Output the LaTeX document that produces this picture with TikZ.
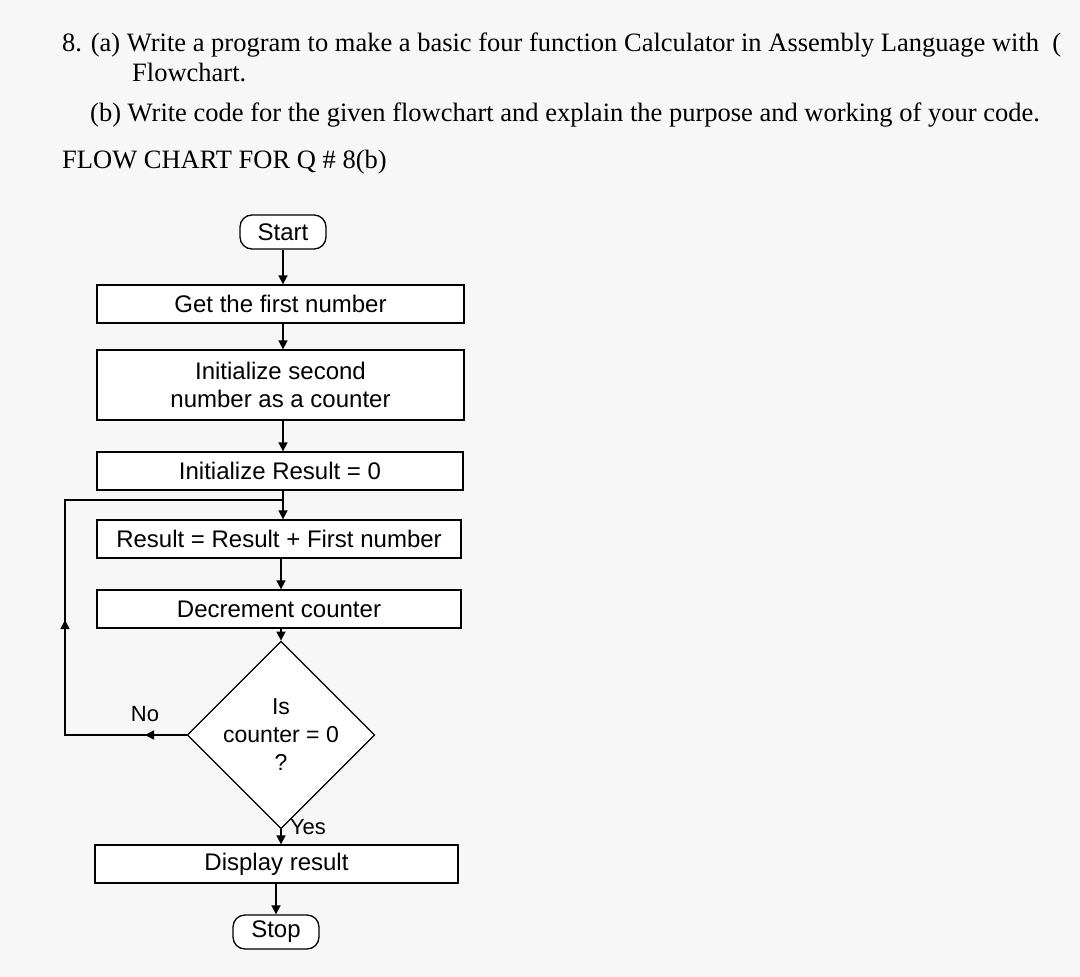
\documentclass[tikz,border=0pt]{standalone}
\usepackage{fontspec}
\setmainfont{Liberation Serif}
\newfontfamily\chartfont{Liberation Sans}
\usetikzlibrary{shapes.geometric,arrows.meta}
\begin{document}
\begin{tikzpicture}[x=1pt,y=-1pt,
  box/.style={draw,line width=1.3pt,fill=white,font=\chartfont\fontsize{24}{28}\selectfont,align=center,inner sep=0},
  term/.style={draw,line width=1.3pt,rounded corners=12pt,fill=white,font=\chartfont\fontsize{24}{28}\selectfont,minimum width=86pt,minimum height=34pt},
  arr/.style={line width=1.6pt,-{Triangle[length=9pt,width=9pt]}},
  lbl/.style={font=\chartfont\fontsize{22}{26}\selectfont},
  hdr/.style={anchor=west,font=\fontsize{26.5}{30}\selectfont,inner sep=0}]
\fill[gray!6] (0,0) rectangle (1080,977);
\useasboundingbox (0,0) rectangle (1080,977);
\node[hdr] (h1) at (62,45) {8. (a) Write a program to make a basic four function Calculator in Assembly Language with\ \ (};
\node[hdr] (h2) at (132,72) {Flowchart.};
\node[hdr] (h3) at (90,115) {(b) Write code for the given flowchart and explain the purpose and working of your code.};
\node[hdr] (h4) at (62,162) {FLOW CHART FOR Q \# 8(b)};
\node[term] (start) at (283,232) {Start};
\node[box,minimum width=367pt,minimum height=38pt] (get) at (280.5,304) {Get the first number};
\node[box,minimum width=367pt,minimum height=70pt] (init2) at (280.5,385) {Initialize second\\number as a counter};
\node[box,minimum width=366pt,minimum height=38pt] (initr) at (280,471) {Initialize Result = 0};
\node[box,minimum width=364pt,minimum height=38pt] (add) at (279,539) {Result = Result + First number};
\node[box,minimum width=364pt,minimum height=38pt] (dec) at (279,609) {Decrement counter};
\node[draw,line width=1.3pt,fill=white,diamond,minimum width=162pt,minimum height=165pt,inner sep=0,font=\chartfont\fontsize{23}{28}\selectfont,align=center] (dia) at (281,735) {Is\\counter = 0\\?};
\node[box,minimum width=363pt,minimum height=38pt] (disp) at (276.5,864) {Display result};
\node[term] (stop) at (276,932) {Stop};
\coordinate (j) at (283,500);
\coordinate (l1) at (65,735);
\coordinate (l2) at (65,500);
\draw[arr] (start) -- (start |- get.north);
\draw[arr] (start |- get.south) -- (start |- init2.north);
\draw[arr] (start |- init2.south) -- (start |- initr.north);
\draw[arr] (start |- initr.south) -- (start |- add.north);
\draw[arr] (dia.north |- add.south) -- (dia.north |- dec.north);
\draw[arr] (dia.north |- dec.south) -- (dia.north);
\draw[arr] (dia.south) -- (dia.south |- disp.north);
\draw[arr] (stop |- disp.south) -- (stop);
\draw[line width=1.6pt] (dia.west) -- (l1) -- (l2) -- (j);
\draw[arr] (dia.west) -- (145,735);
\draw[arr] (l1) -- (65,620);
\node[lbl] (no) at (145,714) {No};
\node[lbl] (yes) at (308,827) {Yes};
\end{tikzpicture}
\end{document}
